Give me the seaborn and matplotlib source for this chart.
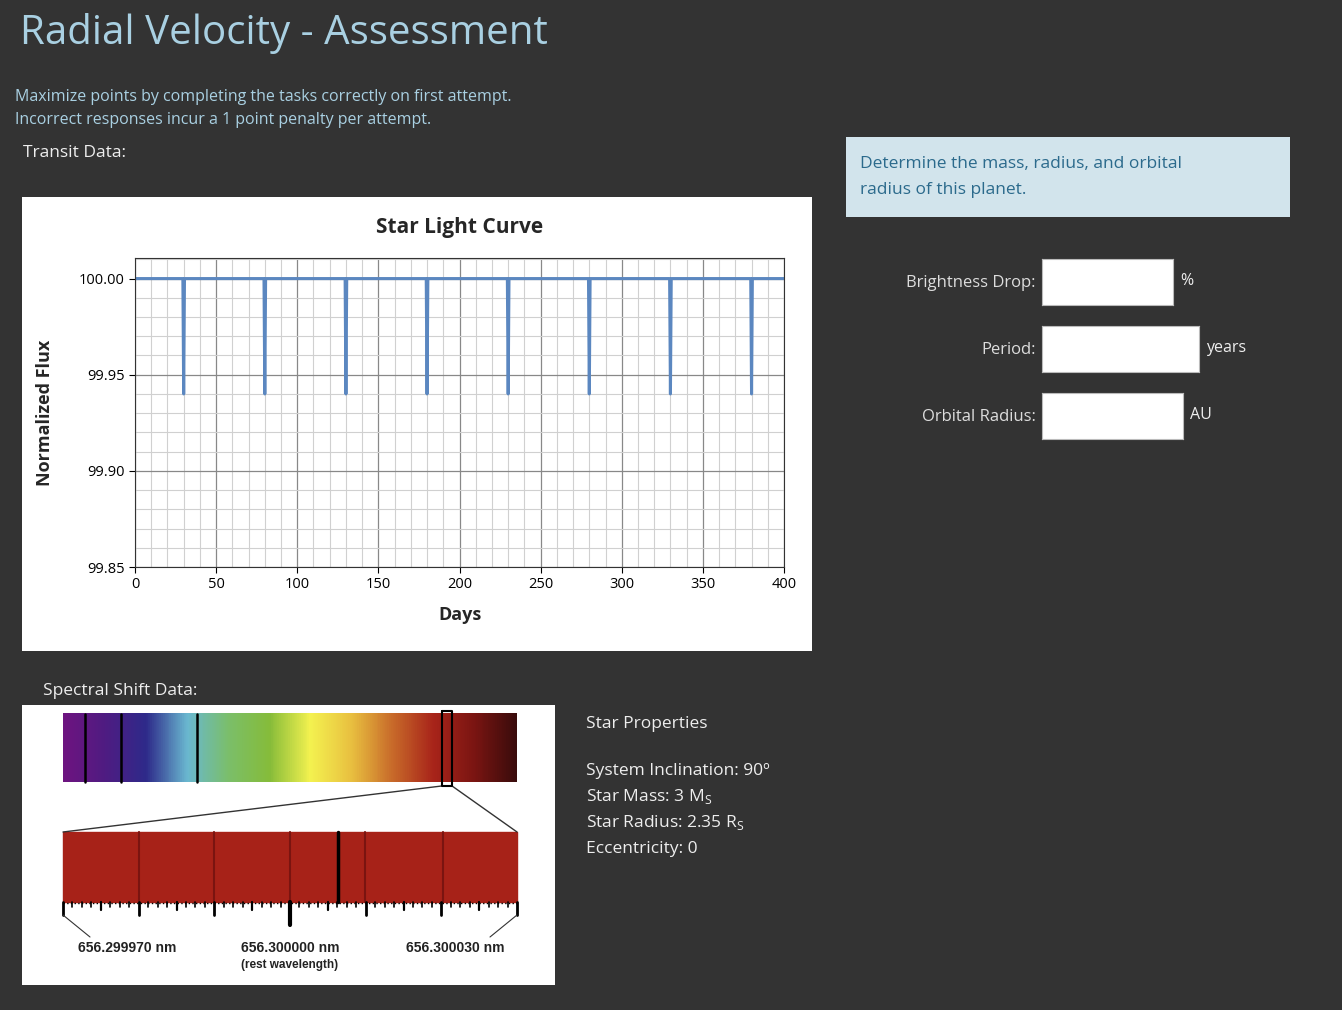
import matplotlib
matplotlib.use("Agg")
from matplotlib import pyplot as plt
from matplotlib.colors import LinearSegmentedColormap
from matplotlib.ticker import MultipleLocator
import seaborn as sns
import numpy as np
import pandas as pd

# light curve data
transit_days = [30, 80, 130, 180, 230, 280, 330, 380]
baseline_flux = 100.00
transit_flux = 99.94
x_ticks = [0, 50, 100, 150, 200, 250, 300, 350, 400]
y_ticks = [99.85, 99.90, 99.95, 100.00]

# spectrum data
spectrum_colors = ['#6e1480', '#4f1c82', '#2e2a8a', '#6ab8d0', '#7bbf6a', '#86bc3a',
                   '#f4f250', '#e9c040', '#c86a2a', '#a8241a', '#7a1512', '#3a0c0c']
top_lines = [0.049, 0.127, 0.296]
zoom_lines = [0.167, 0.333, 0.501, 0.666, 0.836]
shifted_line = 0.606
wave_labels = ['656.299970 nm', '656.300000 nm', '656.300030 nm']

BG = '#333333'
W, H = 1342, 1010
sns.set_style('white')
plt.rcParams['font.family'] = ['Open Sans', 'DejaVu Sans']
fig = plt.figure(figsize=(W / 100, H / 100), dpi=100, facecolor=BG)


def px_axes(x0, y0, w, h, **kw):
    return fig.add_axes([x0 / W, 1 - (y0 + h) / H, w / W, h / H], **kw)


def ftext(x, y, s, **kw):
    fig.text(x / W, 1 - y / H, s, **kw)


# header texts
ftext(20, 33, 'Radial Velocity - Assessment', color='#a9d0e2', fontsize=29, va='center')
ftext(15, 97, 'Maximize points by completing the tasks correctly on first attempt.',
      color='#a9d0e2', fontsize=11.5, va='center')
ftext(15, 120, 'Incorrect responses incur a 1 point penalty per attempt.',
      color='#a9d0e2', fontsize=11.5, va='center')
ftext(23, 153, 'Transit Data:', color='#eeeeee', fontsize=12.5, va='center')
ftext(43, 691, 'Spectral Shift Data:', color='#eeeeee', fontsize=12.5, va='center')

# light curve panel
panel = px_axes(22, 197, 790, 454)
panel.set_facecolor('white')
panel.set_xticks([]); panel.set_yticks([])
for s in panel.spines.values():
    s.set_visible(False)

pts = [(0, baseline_flux)]
for d in transit_days:
    pts += [(d - 0.5, baseline_flux), (d, transit_flux), (d + 0.5, baseline_flux)]
pts.append((400, baseline_flux))
lc = pd.DataFrame(pts, columns=['Days', 'Flux'])

ax = px_axes(135, 258, 649, 309)
sns.lineplot(data=lc, x='Days', y='Flux', sort=False, color='#5b87c0', linewidth=2.2, ax=ax)
ax.set_xlim(0, 400)
ax.set_ylim(99.85, 100.0107)
ax.set_xticks(x_ticks)
ax.set_yticks(y_ticks)
ax.set_yticklabels([f'{v:.2f}' for v in y_ticks])
ax.xaxis.set_minor_locator(MultipleLocator(10))
ax.yaxis.set_minor_locator(MultipleLocator(0.01))
ax.grid(which='minor', color='#d0d0d0', linewidth=0.8)
ax.grid(which='major', color='#888888', linewidth=0.9)
ax.set_axisbelow(True)
for s in ax.spines.values():
    s.set_color('#333333')
ax.tick_params(labelsize=10.5, colors='black', length=4, direction='out', left=True, bottom=True)
ax.set_xlabel('Days', fontsize=13, fontweight='bold', labelpad=10)
ax.set_ylabel('Normalized Flux', fontsize=13, fontweight='bold', labelpad=18)
ax.set_title('Star Light Curve', fontsize=15, fontweight='bold', pad=18)

# spectrum panel
sp = px_axes(22, 705, 533, 280)
sp.set_xlim(22, 555); sp.set_ylim(985, 705)
sp.set_facecolor('white')
sp.set_xticks([]); sp.set_yticks([])
for s in sp.spines.values():
    s.set_visible(False)
x0, x1 = 63, 517
cmap = LinearSegmentedColormap.from_list('spec', spectrum_colors)
sp.imshow(np.linspace(0, 1, 500)[None, :], cmap=cmap, aspect='auto',
          extent=[x0, x1, 782, 714], zorder=1)
for f in top_lines:
    xx = x0 + f * (x1 - x0)
    sp.plot([xx, xx], [714, 782], color='black', lw=1.8, zorder=2)
bx0, bx1 = x0 + 0.834 * (x1 - x0), x0 + 0.857 * (x1 - x0)
sp.plot([bx0, bx1, bx1, bx0, bx0], [711, 711, 786, 786, 711], color='black', lw=1.5, zorder=3)
sp.plot([bx0, x0], [786, 832], color='#333333', lw=1)
sp.plot([bx1, x1], [786, 832], color='#333333', lw=1)
sp.fill_between([x0, x1], 832, 902, color='#a72218', zorder=1)
for f in zoom_lines:
    xx = x0 + f * (x1 - x0)
    sp.plot([xx, xx], [832, 902], color='#7a1410', lw=1.5, zorder=2)
xs = x0 + shifted_line * (x1 - x0)
sp.plot([xs, xs], [832, 902], color='black', lw=2.5, zorder=3)
# ruler
for i in range(0, 49):
    xx = x0 + i / 48 * (x1 - x0)
    if i % 8 == 0:
        L, lw = (925 if i == 24 else 915), (3 if i == 24 else 2)
    elif i % 4 == 0:
        L, lw = 910, 1.6
    else:
        L, lw = 907, 1.2
    sp.plot([xx, xx], [902, L], color='black', lw=lw)
sp.plot([x0, x1], [903, 903], color='black', lw=1, ls=':')
sp.plot([x0, 90], [915, 937], color='#333333', lw=0.8)
sp.plot([x1, 490], [915, 937], color='#333333', lw=0.8)
for xx, lab in zip([127, 290, 455], wave_labels):
    sp.text(xx, 948, lab, ha='center', va='center', fontsize=10, fontweight='bold',
            family='Liberation Sans', color='#222222')
sp.text(290, 965, '(rest wavelength)', ha='center', va='center', fontsize=8.5,
        fontweight='bold', family='Liberation Sans', color='#222222')

# star properties
ftext(586, 724, 'Star Properties', color='#eeeeee', fontsize=12.5, va='center')
props = ['System Inclination: 90º', 'Star Mass: 3 M$_\\mathregular{S}$',
         'Star Radius: 2.35 R$_\\mathregular{S}$', 'Eccentricity: 0']
for i, p in enumerate(props):
    ftext(586, 771 + i * 26, p, color='#eeeeee', fontsize=12.5, va='center')

# task box and inputs
tb = px_axes(846, 137, 444, 80)
tb.set_facecolor('#d2e4ec'); tb.set_xticks([]); tb.set_yticks([])
for s in tb.spines.values():
    s.set_visible(False)
ftext(860, 164, 'Determine the mass, radius, and orbital', color='#2b6a8c', fontsize=12.5, va='center')
ftext(860, 190, 'radius of this planet.', color='#2b6a8c', fontsize=12.5, va='center')
fields = [('Brightness Drop:', '%', 259, 131), ('Period:', 'years', 326, 157),
          ('Orbital Radius:', 'AU', 393, 141)]
for lab, unit, y, w in fields:
    bx = px_axes(1042, y, w, 46)
    bx.set_facecolor('white'); bx.set_xticks([]); bx.set_yticks([])
    for s in bx.spines.values():
        s.set_color('#bbbbbb')
    ftext(1036, y + 24, lab, color='#dddddd', fontsize=12, ha='right', va='center')
    ftext(1042 + w + 7, y + 22, unit, color='#eeeeee', fontsize=11.5, va='center')

fig.savefig('out.png', dpi=100, facecolor=BG)
